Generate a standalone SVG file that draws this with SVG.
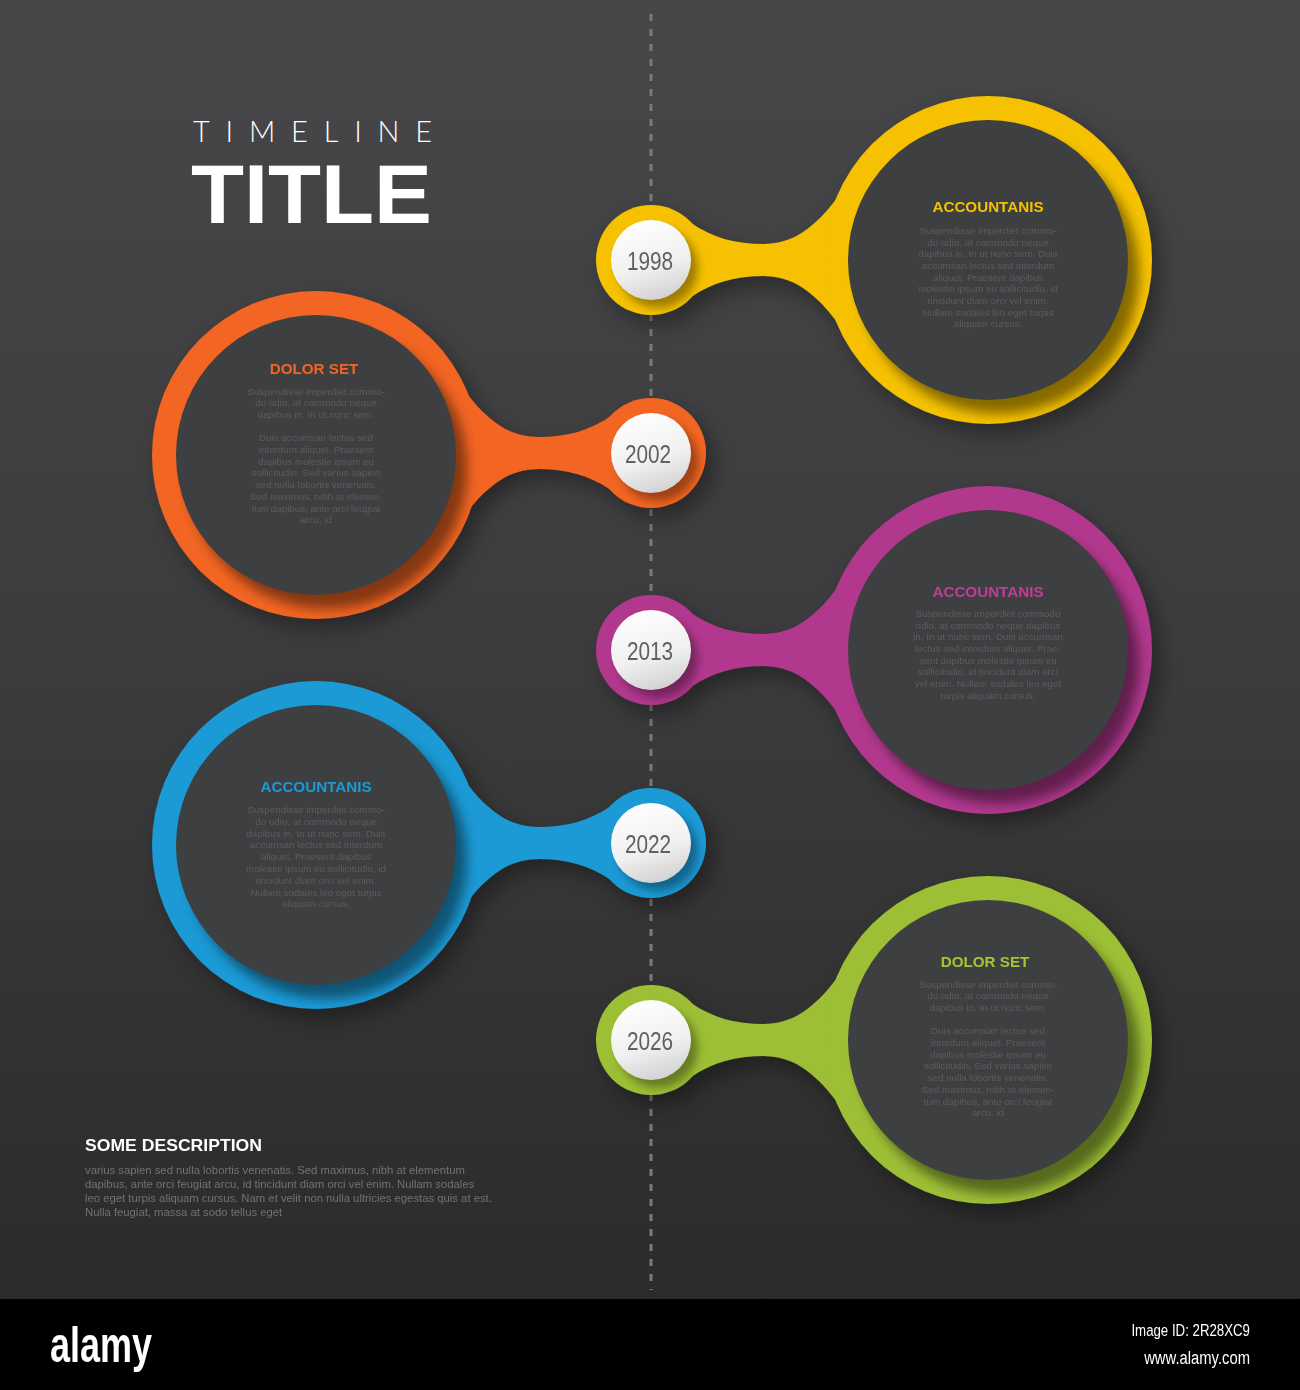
<svg xmlns="http://www.w3.org/2000/svg" xmlns:xlink="http://www.w3.org/1999/xlink" width="1300" height="1390" viewBox="0 0 1300 1390">
<style>
.inner{fill:#3e3f41}
.ishadow{fill:#000;opacity:.45}
.wshadow{fill:#000;opacity:.35}
.white{fill:url(#whiteGrad)}
.year{font-family:"Liberation Sans",Arial,sans-serif;font-size:26px;fill:#616164;text-anchor:middle}
.title{font-family:"Liberation Sans",Arial,sans-serif;font-weight:700;font-size:15.2px;text-anchor:middle}
.body{font-family:"Liberation Sans",Arial,sans-serif;font-size:9.8px;fill:#5c5c5f;text-anchor:middle}
.desc{font-family:"Liberation Sans",Arial,sans-serif;font-size:11.3px;fill:#727274}
.foot{font-family:"Liberation Sans",Arial,sans-serif;fill:#ffffff;text-anchor:end}
</style>
<defs>
<linearGradient id="bg" x1="0" y1="0" x2="0" y2="1">
<stop offset="0" stop-color="#474749"/>
<stop offset="0.5" stop-color="#3c3c3e"/>
<stop offset="1" stop-color="#2b2b2b"/>
</linearGradient>
<linearGradient id="whiteGrad" x1="0.3" y1="0" x2="0.6" y2="1">
<stop offset="0" stop-color="#ffffff"/>
<stop offset="0.6" stop-color="#f0f0f0"/>
<stop offset="1" stop-color="#d2d2d4"/>
</linearGradient>
<filter id="drop" x="-20%" y="-20%" width="150%" height="150%">
<feDropShadow dx="8" dy="10" stdDeviation="10" flood-color="#000" flood-opacity="0.35"/>
</filter>
<filter id="blur6" x="-20%" y="-20%" width="140%" height="140%"><feGaussianBlur stdDeviation="6"/></filter>
<filter id="blur4" x="-30%" y="-30%" width="160%" height="160%"><feGaussianBlur stdDeviation="4"/></filter>
<path id="neck" d="M 40,-37 C 62,-22 85,-16 112,-16 C 140,-16 162,-30 186,-62 L 186,62 C 162,30 140,16 112,16 C 85,16 62,22 40,37 Z"/>
<clipPath id="c1"><circle cx="651" cy="260" r="55"/><use xlink:href="#neck" transform="translate(651,260)"/><circle cx="988" cy="260" r="164"/></clipPath>
<clipPath id="c2"><circle cx="651" cy="453" r="55"/><use xlink:href="#neck" transform="translate(651,453) scale(-1,1)"/><circle cx="316" cy="455" r="164"/></clipPath>
<clipPath id="c3"><circle cx="651" cy="650" r="55"/><use xlink:href="#neck" transform="translate(651,650)"/><circle cx="988" cy="650" r="164"/></clipPath>
<clipPath id="c4"><circle cx="651" cy="843" r="55"/><use xlink:href="#neck" transform="translate(651,843) scale(-1,1)"/><circle cx="316" cy="845" r="164"/></clipPath>
<clipPath id="c5"><circle cx="651" cy="1040" r="55"/><use xlink:href="#neck" transform="translate(651,1040)"/><circle cx="988" cy="1040" r="164"/></clipPath>
</defs>

<rect x="0" y="0" width="1300" height="1300" fill="url(#bg)"/>

<g id="connectors">
<line x1="651" y1="14" x2="651" y2="1290" stroke="#7a7a7d" stroke-width="3" stroke-dasharray="7 8"/>
</g>

<g id="title">
<text x="193" y="142" font-family="Lato,'Open Sans','Liberation Sans',sans-serif" font-weight="300" font-size="29" fill="#ffffff" textLength="239" lengthAdjust="spacing">TIMELINE</text>
<text x="191" y="223" font-family="'Liberation Sans',Arial,sans-serif" font-weight="700" font-size="84" fill="#ffffff" textLength="241" lengthAdjust="spacingAndGlyphs">TITLE</text>
</g>

<g id="item-1998">
<g fill="#f5c100" filter="url(#drop)">
<circle cx="651" cy="260" r="55"/><use xlink:href="#neck" transform="translate(651,260)"/><circle cx="988" cy="260" r="164"/>
</g>
<g clip-path="url(#c1)">
<circle class="ishadow" cx="999" cy="274" r="140" filter="url(#blur6)"/>
<circle class="wshadow" cx="658" cy="268" r="40" filter="url(#blur4)"/>
</g>
<circle class="inner" cx="988" cy="260" r="140"/>
<circle class="white" cx="651" cy="260" r="40"/>
<text class="year" transform="translate(650,270) scale(0.8,1)">1998</text>
<text class="title" x="988" y="212" fill="#f5c100">ACCOUNTANIS</text>
<text class="body"><tspan x="988" y="234">Suspendisse imperdiet commo-</tspan><tspan x="988" y="246">do odio, at commodo neque</tspan><tspan x="988" y="257">dapibus in. In ut nunc sem. Duis</tspan><tspan x="988" y="269">accumsan lectus sed interdum</tspan><tspan x="988" y="281">aliquet. Praesent dapibus</tspan><tspan x="988" y="292">molestie ipsum eu sollicitudiu, id</tspan><tspan x="988" y="304">tincidunt diam orci vel enim.</tspan><tspan x="988" y="316">Nullam sodales leo eget turpis</tspan><tspan x="988" y="327">aliquam cursus.</tspan></text>
</g>

<g id="item-2002">
<g fill="#f26522" filter="url(#drop)">
<circle cx="651" cy="453" r="55"/><use xlink:href="#neck" transform="translate(651,453) scale(-1,1)"/><circle cx="316" cy="455" r="164"/>
</g>
<g clip-path="url(#c2)">
<circle class="ishadow" cx="327" cy="469" r="140" filter="url(#blur6)"/>
<circle class="wshadow" cx="658" cy="461" r="40" filter="url(#blur4)"/>
</g>
<circle class="inner" cx="316" cy="455" r="140"/>
<circle class="white" cx="651" cy="453" r="40"/>
<text class="year" transform="translate(648,463) scale(0.8,1)">2002</text>
<text class="title" x="314" y="374" fill="#f26522">DOLOR SET</text>
<text class="body"><tspan x="316" y="395">Suspendisse imperdiet commo-</tspan><tspan x="316" y="406">do odio, at commodo neque</tspan><tspan x="316" y="418">dapibus in. In ut nunc sem.</tspan><tspan x="316" y="441">Duis accumsan lectus sed</tspan><tspan x="316" y="453">interdum aliquet. Praesent</tspan><tspan x="316" y="465">dapibus molestie ipsum eu</tspan><tspan x="316" y="476">sollicitudin. Sed varius sapien</tspan><tspan x="316" y="488">sed nulla lobortis venenatis.</tspan><tspan x="316" y="500">Sed maximus, nibh at elemen-</tspan><tspan x="316" y="512">tum dapibus, ante orci feugiat</tspan><tspan x="316" y="523">arcu, id</tspan></text>
</g>

<g id="item-2013">
<g fill="#b2398e" filter="url(#drop)">
<circle cx="651" cy="650" r="55"/><use xlink:href="#neck" transform="translate(651,650)"/><circle cx="988" cy="650" r="164"/>
</g>
<g clip-path="url(#c3)">
<circle class="ishadow" cx="999" cy="664" r="140" filter="url(#blur6)"/>
<circle class="wshadow" cx="658" cy="658" r="40" filter="url(#blur4)"/>
</g>
<circle class="inner" cx="988" cy="650" r="140"/>
<circle class="white" cx="651" cy="650" r="40"/>
<text class="year" transform="translate(650,660) scale(0.8,1)">2013</text>
<text class="title" x="988" y="597" fill="#c13d97">ACCOUNTANIS</text>
<text class="body"><tspan x="988" y="617">Suspendisse imperdiet commodo</tspan><tspan x="988" y="629">odio, at commodo neque dapibus</tspan><tspan x="988" y="640">in. In ut nunc sem. Duis accumsan</tspan><tspan x="988" y="652">lectus sed interdum aliquet. Prae-</tspan><tspan x="988" y="664">sent dapibus molestie ipsum eu</tspan><tspan x="988" y="675">sollicitudiu, id tincidunt diam orci</tspan><tspan x="988" y="687">vel enim. Nullam sodales leo eget</tspan><tspan x="988" y="699">turpis aliquam cursus.</tspan></text>
</g>

<g id="item-2022">
<g fill="#1b9ad6" filter="url(#drop)">
<circle cx="651" cy="843" r="55"/><use xlink:href="#neck" transform="translate(651,843) scale(-1,1)"/><circle cx="316" cy="845" r="164"/>
</g>
<g clip-path="url(#c4)">
<circle class="ishadow" cx="327" cy="859" r="140" filter="url(#blur6)"/>
<circle class="wshadow" cx="658" cy="851" r="40" filter="url(#blur4)"/>
</g>
<circle class="inner" cx="316" cy="845" r="140"/>
<circle class="white" cx="651" cy="843" r="40"/>
<text class="year" transform="translate(648,853) scale(0.8,1)">2022</text>
<text class="title" x="316" y="792" fill="#1b9ad6">ACCOUNTANIS</text>
<text class="body"><tspan x="316" y="813">Suspendisse imperdiet commo-</tspan><tspan x="316" y="825">do odio, at commodo neque</tspan><tspan x="316" y="837">dapibus in. In ut nunc sem. Duis</tspan><tspan x="316" y="848">accumsan lectus sed interdum</tspan><tspan x="316" y="860">aliquet. Praesent dapibus</tspan><tspan x="316" y="872">molestie ipsum eu sollicitudiu, id</tspan><tspan x="316" y="884">tincidunt diam orci vel enim.</tspan><tspan x="316" y="896">Nullam sodales leo eget turpis</tspan><tspan x="316" y="907">aliquam cursus.</tspan></text>
</g>

<g id="item-2026">
<g fill="#9dbf36" filter="url(#drop)">
<circle cx="651" cy="1040" r="55"/><use xlink:href="#neck" transform="translate(651,1040)"/><circle cx="988" cy="1040" r="164"/>
</g>
<g clip-path="url(#c5)">
<circle class="ishadow" cx="999" cy="1054" r="140" filter="url(#blur6)"/>
<circle class="wshadow" cx="658" cy="1048" r="40" filter="url(#blur4)"/>
</g>
<circle class="inner" cx="988" cy="1040" r="140"/>
<circle class="white" cx="651" cy="1040" r="40"/>
<text class="year" transform="translate(650,1050) scale(0.8,1)">2026</text>
<text class="title" x="985" y="967" fill="#a6c534">DOLOR SET</text>
<text class="body"><tspan x="988" y="988">Suspendisse imperdiet commo-</tspan><tspan x="988" y="999">do odio, at commodo neque</tspan><tspan x="988" y="1011">dapibus in. In ut nunc sem.</tspan><tspan x="988" y="1034">Duis accumsan lectus sed</tspan><tspan x="988" y="1046">interdum aliquet. Praesent</tspan><tspan x="988" y="1058">dapibus molestie ipsum eu</tspan><tspan x="988" y="1069">sollicitudin. Sed varius sapien</tspan><tspan x="988" y="1081">sed nulla lobortis venenatis.</tspan><tspan x="988" y="1093">Sed maximus, nibh at elemen-</tspan><tspan x="988" y="1105">tum dapibus, ante orci feugiat</tspan><tspan x="988" y="1116">arcu, id</tspan></text>
</g>

<g id="description">
<text x="85" y="1151" font-family="'Liberation Sans',Arial,sans-serif" font-weight="700" font-size="16.5" fill="#ffffff" textLength="177" lengthAdjust="spacingAndGlyphs">SOME DESCRIPTION</text>
<text class="desc"><tspan x="85" y="1174">varius sapien sed nulla lobortis venenatis. Sed maximus, nibh at elementum</tspan><tspan x="85" y="1188">dapibus, ante orci feugiat arcu, id tincidunt diam orci vel enim. Nullam sodales</tspan><tspan x="85" y="1202">leo eget turpis aliquam cursus. Nam et velit non nulla ultricies egestas quis at est.</tspan><tspan x="85" y="1216">Nulla feugiat, massa at sodo tellus eget</tspan></text>
</g>

<g id="footer">
<rect x="0" y="1299" width="1300" height="91" fill="#000000"/>
<text transform="translate(50,1362) scale(0.72,1)" font-family="'Liberation Sans',Arial,sans-serif" font-weight="700" font-size="50" fill="#ffffff">alamy</text>
<text class="foot" transform="translate(1250,1336) scale(0.78,1)" font-size="17">Image ID: 2R28XC9</text>
<text class="foot" transform="translate(1250,1364) scale(0.78,1)" font-size="19">www.alamy.com</text>
</g>
</svg>
